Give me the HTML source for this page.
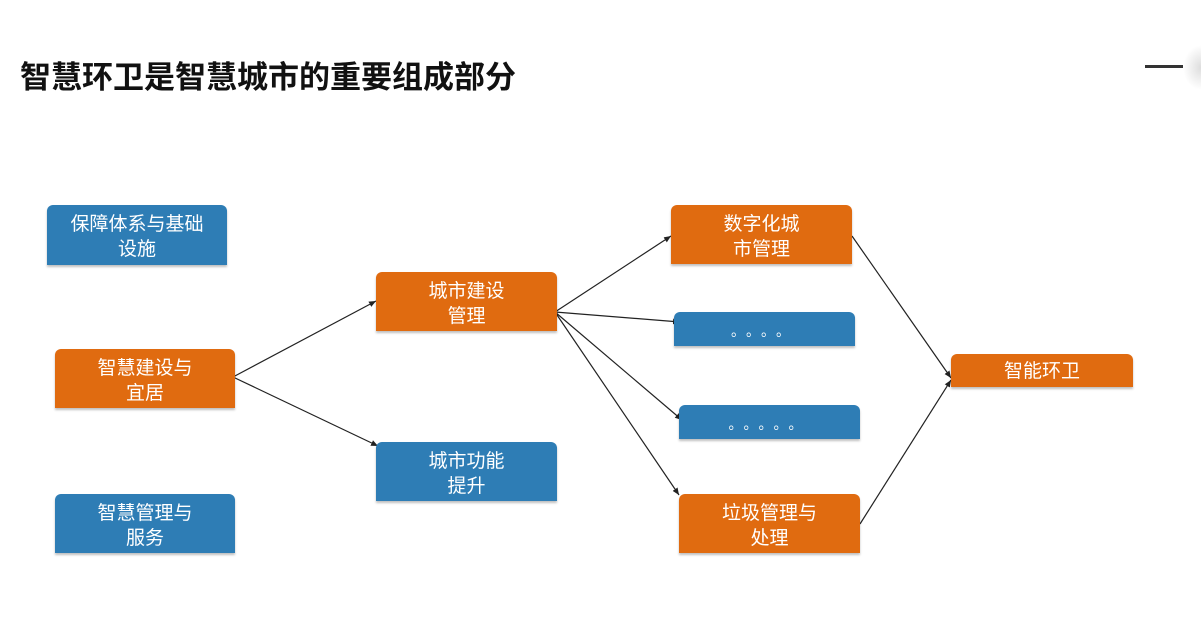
<!DOCTYPE html>
<html><head><meta charset="utf-8"><style>
body{margin:0;width:1201px;height:640px;background:#fff;position:relative;overflow:hidden;font-family:"Liberation Sans","Noto Sans CJK SC",sans-serif}
.t{position:absolute;left:20px;top:52px;font-size:31px;font-weight:bold;color:#111;letter-spacing:0px}
.b{position:absolute;color:#fff;font-size:19px;line-height:25px;text-align:center;display:flex;align-items:center;justify-content:center;border-radius:6px 6px 0 0;box-shadow:0 2px 2px rgba(0,0,0,.25);padding-top:4px;box-sizing:border-box}
.o{background:#e06b10}.u{background:#2e7db5}
.d{align-items:flex-end;padding-bottom:2px;font-size:14px;letter-spacing:8px}
</style></head><body>
<div class="t">智慧环卫是智慧城市的重要组成部分</div>
<div style="position:absolute;left:1145px;top:65px;width:40px;height:3px;background:#333"></div>
<div style="position:absolute;left:1183px;top:45px;width:18px;height:45px;background:radial-gradient(ellipse at right,#ddd,#fff 70%)"></div>
<svg width="1201" height="640" style="position:absolute;left:0;top:0">
<defs><marker id="a" markerWidth="8" markerHeight="8" refX="7" refY="4" orient="auto" markerUnits="userSpaceOnUse"><path d="M0,1 L7,4 L0,7z" fill="#222"/></marker></defs>
<g stroke="#222" stroke-width="1.2" fill="none" marker-end="url(#a)">
<line x1="233" y1="377" x2="376" y2="301"/>
<line x1="233" y1="377" x2="378" y2="446"/>
<line x1="555" y1="312" x2="671" y2="236"/>
<line x1="555" y1="312" x2="680" y2="322"/>
<line x1="555" y1="312" x2="682" y2="420"/>
<line x1="555" y1="312" x2="679" y2="495"/>
<line x1="852" y1="236" x2="951" y2="378"/>
<line x1="860" y1="524" x2="951" y2="380"/>
</g></svg>
<div class="b u" style="left:47px;top:205px;width:180px;height:60px">保障体系与基础<br>设施</div>
<div class="b o" style="left:55px;top:349px;width:180px;height:59px">智慧建设与<br>宜居</div>
<div class="b u" style="left:55px;top:494px;width:180px;height:59px">智慧管理与<br>服务</div>
<div class="b o" style="left:376px;top:272px;width:181px;height:59px">城市建设<br>管理</div>
<div class="b u" style="left:376px;top:442px;width:181px;height:59px">城市功能<br>提升</div>
<div class="b o" style="left:671px;top:205px;width:181px;height:59px">数字化城<br>市管理</div>
<div class="b u d" style="left:674px;top:312px;width:181px;height:34px">。。。。</div>
<div class="b u d" style="left:679px;top:405px;width:181px;height:34px">。。。。。</div>
<div class="b o" style="left:679px;top:494px;width:181px;height:59px">垃圾管理与<br>处理</div>
<div class="b o" style="left:951px;top:354px;width:182px;height:33px;padding-top:2px">智能环卫</div>
</body></html>
